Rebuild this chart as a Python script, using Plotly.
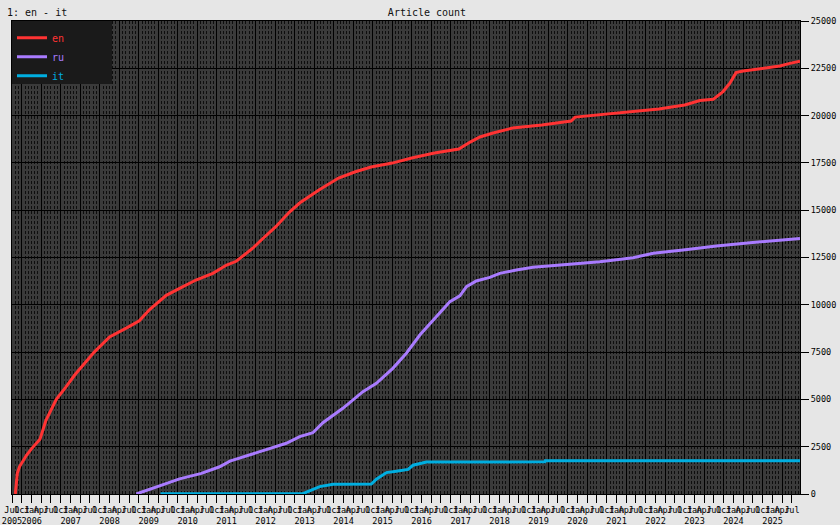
import plotly.graph_objects as go

# ---------------- data ----------------
en_dates = ["2005-08-01", "2005-08-08", "2005-08-20", "2005-09-10", "2005-11-15", "2006-01-01",
            "2006-03-20", "2006-05-15", "2006-08-20", "2006-11-10", "2007-02-10", "2007-08-10",
            "2008-01-01", "2008-07-01", "2008-10-05", "2009-01-10", "2009-06-15", "2009-10-18",
            "2010-03-20", "2010-08-25", "2011-01-01", "2011-04-01", "2011-06-18", "2011-09-03",
            "2011-11-22", "2012-04-01", "2012-08-12", "2012-11-15", "2013-05-15", "2013-11-15",
            "2014-04-15", "2014-09-15", "2015-04-01", "2015-10-01", "2016-05-01", "2016-12-15",
            "2017-04-01", "2017-07-01", "2017-11-01", "2018-05-01", "2019-02-01", "2019-11-01",
            "2019-12-10", "2020-07-01", "2021-04-01", "2022-02-01", "2022-10-01", "2023-02-20",
            "2023-06-25", "2023-07-25", "2023-09-25", "2023-11-28", "2023-12-28", "2024-01-25",
            "2024-04-01", "2024-08-05", "2024-11-05", "2025-03-10", "2025-06-12", "2025-09-15"]
en_values = [0, 600, 1100, 1450, 2060, 2400,
             2900, 3900, 5000, 5600, 6300, 7500,
             8300, 8850, 9150, 9750, 10500, 10870,
             11310, 11665, 12100, 12300, 12630, 12990,
             13425, 14100, 14900, 15380, 16070, 16700,
             17020, 17280, 17490, 17760, 18020, 18230,
             18600, 18870, 19080, 19340, 19500, 19710,
             19920, 20030, 20190, 20350, 20560, 20800,
             20860, 21000, 21270, 21710, 21970, 22270,
             22355, 22460, 22530, 22620, 22760, 22880]

ru_dates = ["2008-09-07", "2009-04-12", "2009-10-18", "2010-05-10", "2010-10-28", "2011-02-01",
            "2011-08-07", "2012-01-10", "2012-07-13", "2012-11-16", "2013-03-19", "2013-06-21",
            "2013-12-25", "2014-07-01", "2014-11-04", "2015-04-07", "2015-08-12", "2015-12-16",
            "2016-04-18", "2016-09-22", "2016-12-25", "2017-02-25", "2017-05-28", "2017-10-01",
            "2018-01-03", "2018-06-07", "2018-11-10", "2019-09-18", "2020-07-28", "2021-06-04",
            "2021-12-10", "2022-09-16", "2023-07-25", "2024-06-03", "2025-04-10", "2025-09-15"]
ru_values = [0, 410, 800, 1090, 1440, 1740,
             2060, 2360, 2680, 3030, 3240, 3770,
             4530, 5410, 5850, 6640, 7440, 8400,
             9200, 10160, 10470, 10960, 11260, 11450,
             11660, 11840, 11980, 12140, 12280, 12490,
             12720, 12900, 13110, 13280, 13420, 13510]

it_dates = ["2009-04-22", "2012-12-15", "2013-03-05", "2013-05-22", "2013-09-25", "2014-09-18",
            "2014-11-04", "2015-02-06", "2015-05-10", "2015-08-28", "2015-10-13", "2016-02-15",
            "2019-02-28", "2019-03-05", "2025-09-15"]
it_values = [15, 15, 210, 390, 510, 530,
             780, 1130, 1200, 1300, 1520, 1690,
             1700, 1760, 1760]

series_names = ["en", "ru", "it"]
series_colors = ["#ff3333", "#a97bff", "#00aee0"]

month_abbr = {1: "Jan", 4: "Apr", 7: "Jul", 10: "Oct"}
first_year, last_year = 2005, 2025

# quarterly tick labels
tick_vals, tick_text = [], []
for y in range(first_year, last_year + 1):
    for m in (1, 4, 7, 10):
        if (y == first_year and m < 7) or (y == last_year and m > 7):
            continue
        tick_vals.append(f"{y}-{m:02d}-01")
        lab = month_abbr[m]
        if m == 1 or (y == first_year and m == 7):
            lab += f"<br>{y}"
        tick_text.append(lab)

x_range = ["2005-07-01", "2025-09-15"]
MONO = "DejaVu Sans Mono"
PAPER = "#e6e6e6"

fig = go.Figure()
for name, color, xs, ys in zip(series_names, series_colors,
                               [en_dates, ru_dates, it_dates],
                               [en_values, ru_values, it_values]):
    fig.add_trace(go.Scatter(
        x=xs, y=ys, mode="lines",
        name=f'<span style="color:{color}">{name}</span>',
        line=dict(color=color, width=3),
    ))

fig.update_layout(
    width=840, height=525,
    margin=dict(l=12, r=40, t=21, b=31, autoexpand=False),
    paper_bgcolor=PAPER,
    plot_bgcolor="#3a3a3a",
    font=dict(family=MONO, size=10, color="#111111"),
    title=dict(text="Article count", x=427 / 840, xref="container", xanchor="center",
               y=1 - 12 / 525, yref="container", yanchor="middle",
               font=dict(family=MONO, size=10, color="#111111")),
    showlegend=True,
    legend=dict(x=0.0, y=0.995, xanchor="left", yanchor="top",
                bgcolor="rgba(0,0,0,0)", borderwidth=0,
                font=dict(family=MONO, size=10)),
    xaxis=dict(
        type="date", range=x_range, autorange=False, automargin=False,
        tick0="2005-10-01", dtick="M6",
        showgrid=True, gridcolor="#000000", gridwidth=1,
        showticklabels=False, ticks="",
        minor=dict(dtick="M1", tick0="2005-07-01", showgrid=True,
                   gridcolor="#0d0d0d", griddash="3px,2px", gridwidth=1),
        showline=True, linecolor="#000000", mirror=True, zeroline=False,
    ),
    xaxis2=dict(
        type="date", range=x_range, autorange=False, overlaying="x", side="bottom",
        anchor="y", automargin=False,
        tickmode="array", tickvals=tick_vals, ticktext=tick_text, tickangle=0,
        ticks="outside", ticklen=8, tickcolor="#000000",
        tickfont=dict(family=MONO, size=8.5, color="#000000"),
        showgrid=False, zeroline=False, showline=False,
    ),
    yaxis=dict(
        side="right", range=[0, 25000], autorange=False, automargin=False,
        tick0=0, dtick=2500, tickformat="d",
        showgrid=True, gridcolor="#000000", gridwidth=1,
        ticks="outside", ticklen=8, tickcolor="#000000",
        tickfont=dict(family=MONO, size=8.5, color="#000000"),
        showline=True, linecolor="#000000", mirror=True, zeroline=False,
    ),
    shapes=[dict(type="rect", xref="paper", yref="paper",
                 x0=0, x1=100 / 788, y0=1 - 63 / 473, y1=1,
                 fillcolor="#1a1a1a", line=dict(width=0), layer="above")],
    annotations=[dict(text="1: en - it", xref="paper", yref="paper",
                      x=-7 / 788, y=1 + 9 / 473, xanchor="left", yanchor="middle",
                      showarrow=False, font=dict(family=MONO, size=10, color="#111111"))],
)

# invisible helper trace so the label axis is drawn
fig.add_trace(go.Scatter(x=x_range, y=[None, None], xaxis="x2", yaxis="y",
                         showlegend=False, hoverinfo="skip", mode="lines"))

page_css = ("document.body.style.margin='0';document.body.style.padding='0';"
            f"document.body.style.background='{PAPER}';"
            "document.documentElement.style.background='" + PAPER + "';")
fig.write_html("out.html", post_script=page_css, config={"displayModeBar": False})
